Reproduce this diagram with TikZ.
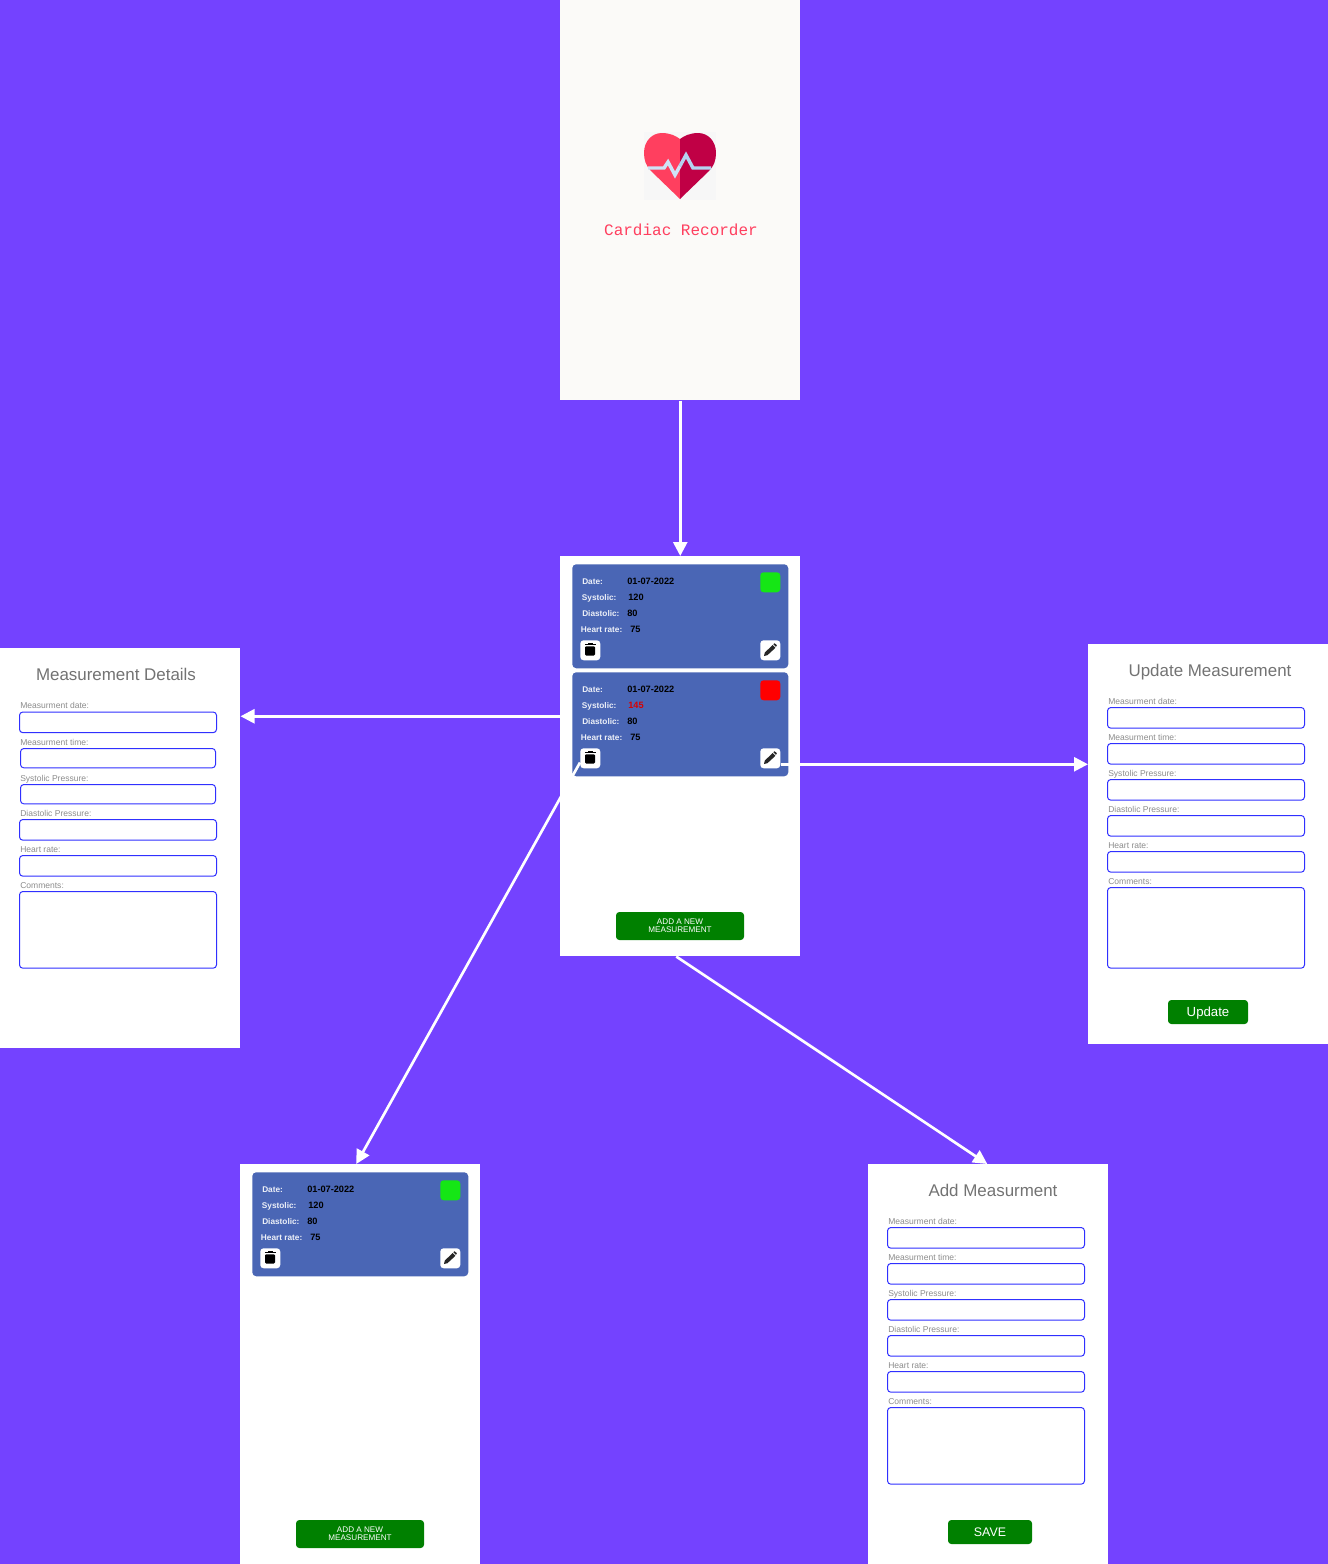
\documentclass[tikz,border=0pt]{standalone}
\usepackage{fontspec}
\setmainfont{Liberation Sans}
\newfontfamily\appfont{Liberation Mono}
\usetikzlibrary{arrows.meta,positioning}

\definecolor{canvas}{HTML}{7442FF}
\definecolor{paper}{HTML}{FBFAF8}
\definecolor{cardblue}{HTML}{4A66B5}
\definecolor{okgreen}{HTML}{15E615}
\definecolor{btngreen}{HTML}{008000}
\definecolor{fieldblue}{HTML}{3030FF}
\definecolor{heartlight}{HTML}{FF3F5F}
\definecolor{heartdark}{HTML}{C00045}
\definecolor{pulselight}{HTML}{CFE3F7}
\definecolor{pulsedark}{HTML}{B5D3F0}

\tikzset{
    screen/.style={fill=white, minimum width=180pt, minimum height=300pt, inner sep=0pt, anchor=north west},
    flow/.style={draw=white, line width=2pt, -{Triangle[width=10.5pt,length=10.5pt]}},
    title/.style={text=black!55, font=\fontsize{12.7}{13}\selectfont, inner sep=0pt, text depth=0pt},
    fieldlabel/.style={text=black!45, font=\fontsize{6.4}{7}\selectfont, inner sep=0pt, anchor=base west},
    field/.style={draw=fieldblue, line width=.75pt, rounded corners=2.5pt, fill=white, inner sep=0pt, anchor=north west, minimum width=147.75pt, minimum height=15.5pt},
    narrow/.style={minimum width=146.25pt, minimum height=14.5pt},
    card/.style={fill=cardblue, rounded corners=3pt, inner sep=0pt, anchor=north west, minimum width=162pt, minimum height=78pt},
    cardkey/.style={text=white!90!cardblue, font=\fontsize{6.2}{7}\selectfont\bfseries, inner sep=0pt, anchor=base west},
    cardval/.style={text=black, font=\fontsize{6.9}{7}\selectfont\bfseries, inner sep=0pt, anchor=base west},
    square/.style={rounded corners=2.5pt, inner sep=0pt, minimum size=15pt, anchor=north west},
    action/.style={fill=btngreen, rounded corners=2.5pt, inner sep=0pt, text=white, align=center},
}

% one record of the list, #2 is the top left corner
\newcommand{\recordcard}[5]{
    \begin{scope}[shift={#2}]
    \node[card] (#1) at (0,0) {};
    \node[cardkey] (#1date) at (10,20) {Date:};
    \node[cardval] (#1dateval) at (55,20) {01-07-2022};
    \node[cardkey] (#1sys) at (9.7,36) {Systolic:};
    \node[cardval, text=#4] (#1sysval) at (56,36) {#5};
    \node[cardkey] (#1dia) at (10,52) {Diastolic:};
    \node[cardval] (#1diaval) at (55,52) {80};
    \node[cardkey] (#1rate) at (8.7,68) {Heart rate:};
    \node[cardval] (#1rateval) at (58,68) {75};
    \node[square, fill=#3] (#1status) at (188,8) {};
    \node[square, fill=white] (#1trash) at (8,76) {};
    \node[square, fill=white] (#1pencil) at (188,76) {};
    % trash can
    \fill[black] (12.5,79.5) rectangle (23.5,81.3);
    \fill[black] (15.5,78.8) rectangle (20.5,79.6);
    \fill[black, rounded corners=.8pt] (13,82.3) -- (23,82.3) -- (23,91.5) -- (13,91.5) -- cycle;
    % pencil
    \fill[black!85] (192,92) -- (192.8,88.6) -- (200.6,81) -- (203.4,83.8) -- (195.4,91.2) -- cycle;
    \fill[black!85] (201.4,80.2) -- (202.6,79.2) -- (204.8,81.2) -- (204,82.8) -- cycle;
    \end{scope}
}

% label and box of a form field
\newcommand{\formfield}[6][]{
    \node[field, #1] (#2) at (#3,#4) {};
    \node[fieldlabel] (#2label) at (#5,#4-3) {#6};
}

\begin{document}
\begin{tikzpicture}[x=.75pt, y=-.75pt]

    \useasboundingbox (0,0) rectangle (1328,1564);
    \fill[canvas] (0,0) rectangle (1328,1564);

    % Screens
    \node[screen, fill=paper] (splash) at (560,0) {};
    \node[screen] (list) at (560,556) {};
    \node[screen] (details) at (0,648) {};
    \node[screen] (update) at (1088,644) {};
    \node[screen] (single) at (240,1164) {};
    \node[screen] (add) at (868,1164) {};

    % Splash
    \fill[black!3] (644,132) rectangle (716,200);
    \fill[heartlight] (680,199) -- (651,171) .. controls (646,166) and (644,160) .. (644,153) .. controls (644,141) and (652,133) .. (662,133) .. controls (670,133) and (676,136) .. (680,139) -- cycle;
    \fill[heartdark] (680,199) -- (709,171) .. controls (714,166) and (716,160) .. (716,153) .. controls (716,141) and (708,133) .. (698,133) .. controls (690,133) and (684,136) .. (680,139) -- cycle;
    \draw[line width=2.6pt, color=pulselight] (648,168) -- (664,168) -- (668,162) -- (675,175) -- (680,166);
    \draw[line width=2.6pt, color=pulsedark] (680,166) -- (686,155) -- (693,168) -- (711,168);
    \node[text=heartlight, inner sep=0pt, font=\appfont\fontsize{12}{12}\selectfont] (appname) at (681,230) {Cardiac Recorder};

    % Lists
    \recordcard{first}{(572,564)}{okgreen}{black}{120}
    \recordcard{second}{(572,672)}{red}{red!85!black}{145}
    \recordcard{lone}{(252,1172)}{okgreen}{black}{120}
    \node[action, font=\fontsize{6.1}{5.8}\selectfont, minimum width=96pt, minimum height=21pt] (addbtn) at (680,926) {ADD A NEW\\MEASUREMENT};
    \node[action, font=\fontsize{6.1}{5.8}\selectfont, minimum width=96pt, minimum height=21pt] (lonebtn) at (360,1534) {ADD A NEW\\MEASUREMENT};

    % Measurement Details
    \node[title] (detailstitle) at (116,674.5) {Measurement Details};
    \formfield{da}{19}{711.5}{20}{Measurment date:}
    \formfield[narrow]{db}{20}{748}{20}{Measurment time:}
    \formfield[narrow]{dc}{20}{784}{20}{Systolic Pressure:}
    \formfield{dd}{19}{819}{20}{Diastolic Pressure:}
    \formfield{de}{19}{855}{20}{Heart rate:}
    \formfield[minimum height=57.5pt]{df}{19}{891}{20}{Comments:}

    % Update Measurement
    \node[title] (updatetitle) at (1210,670.5) {Update Measurement};
    \formfield{ua}{1107}{707}{1108}{Measurment date:}
    \formfield{ub}{1107}{743}{1108}{Measurment time:}
    \formfield{uc}{1107}{779}{1108}{Systolic Pressure:}
    \formfield{ud}{1107}{815}{1108}{Diastolic Pressure:}
    \formfield{ue}{1107}{851}{1108}{Heart rate:}
    \formfield[minimum height=60.5pt]{uf}{1107}{887}{1108}{Comments:}
    \node[action, font=\fontsize{9.9}{10}\selectfont, minimum width=60pt, minimum height=18pt, text depth=0pt] (updatebtn) at (1208,1012) {Update};

    % Add Measurment
    \node[title] (addtitle) at (993,1190.5) {Add Measurment};
    \formfield{aa}{887}{1227}{888}{Measurment date:}
    \formfield{ab}{887}{1263}{888}{Measurment time:}
    \formfield{ac}{887}{1299}{888}{Systolic Pressure:}
    \formfield{ad}{887}{1335}{888}{Diastolic Pressure:}
    \formfield{ae}{887}{1371}{888}{Heart rate:}
    \formfield[minimum height=57.5pt]{af}{887}{1407}{888}{Comments:}
    \node[action, font=\fontsize{9.3}{10}\selectfont, minimum width=63pt, minimum height=18pt] (savebtn) at (990,1532) {SAVE};

    % Edges
    \draw[flow] (splash) -- (list);
    \draw[flow] ([yshift=30pt]list.west) -- ([yshift=99pt]details.east);
    \draw[flow] ([yshift=-4.5pt]secondpencil.east) -- ([yshift=60pt]update.west);
    \draw[flow] ([yshift=4.5pt]secondtrash.south west) -- ([xshift=-3pt]single.north);
    \draw[flow] ([xshift=-3pt]list.south) -- ([xshift=-.75pt]add.north);

\end{tikzpicture}
\end{document}
